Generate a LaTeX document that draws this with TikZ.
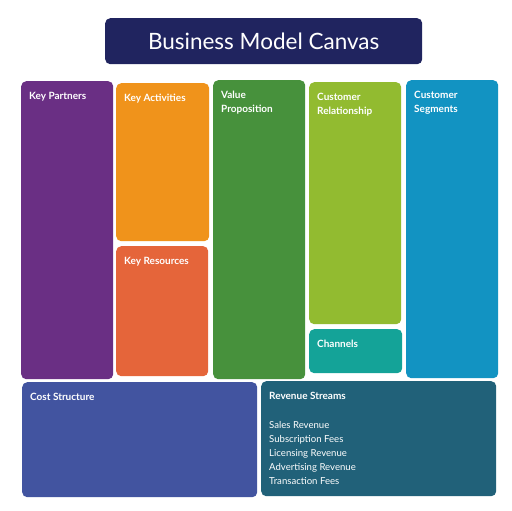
\documentclass[tikz,border=0pt]{standalone}
\usepackage{fontspec}
\setmainfont{Lato}
\usepackage{xcolor}
\usetikzlibrary{positioning}

\definecolor{titleblue}{HTML}{20245F}
\definecolor{kpcol}{HTML}{6A2F84}
\definecolor{kacol}{HTML}{F0931B}
\definecolor{krcol}{HTML}{E5653A}
\definecolor{vpcol}{HTML}{47913C}
\definecolor{crcol}{HTML}{92BB30}
\definecolor{chcol}{HTML}{14A398}
\definecolor{cscol}{HTML}{1293C2}
\definecolor{costcol}{HTML}{4254A0}
\definecolor{rscol}{HTML}{216179}

\begin{document}
\begin{tikzpicture}[x=1pt,y=-1pt]
	%\draw[help lines] (0,0) grid (512,511);
	\useasboundingbox (0,0) rectangle (512,511);
	
	\tikzstyle{cell} = [rectangle,rounded corners=5pt,inner sep=0pt,anchor=north west]
	\tikzstyle{ctitle} = [anchor=north west,inner sep=0pt,text=white,align=left,font=\fontsize{10}{14}\selectfont\bfseries]
	\tikzstyle{citem} = [anchor=north west,inner sep=0pt,text=white,align=left,font=\fontsize{9.6}{14}\selectfont]
	
	\node[cell,fill=titleblue,minimum width=317pt,minimum height=46pt] (head) at (105,18) {};
	\node[text=white,font=\fontsize{22.5}{26}\selectfont] (headtxt) at (head.center) {Business Model Canvas};
	
	\node[cell,fill=kpcol,minimum width=92pt,minimum height=298pt] (kp) at (21,81) {};
	\node[cell,fill=kacol,minimum width=93pt,minimum height=158pt] (ka) at (116,83) {};
	\node[cell,fill=krcol,minimum width=92pt,minimum height=130pt] (kr) at (116,246) {};
	\node[cell,fill=vpcol,minimum width=92pt,minimum height=299pt] (vp) at (213,80) {};
	\node[cell,fill=crcol,minimum width=92pt,minimum height=242pt] (cr) at (309,82) {};
	\node[cell,fill=chcol,minimum width=93pt,minimum height=44pt] (ch) at (309,329) {};
	\node[cell,fill=cscol,minimum width=92pt,minimum height=298pt] (cs) at (406,80) {};
	\node[cell,fill=costcol,minimum width=235pt,minimum height=115pt] (cost) at (22,382) {};
	\node[cell,fill=rscol,minimum width=235pt,minimum height=115pt] (rs) at (261,381) {};
	
	\node[ctitle] (kptxt) at ([shift={(8,11)}]kp.north west) {Key Partners};
	\node[ctitle] (katxt) at ([shift={(8,11)}]ka.north west) {Key Activities};
	\node[ctitle] (krtxt) at ([shift={(8,11)}]kr.north west) {Key Resources};
	\node[ctitle] (vptxt) at ([shift={(8,11)}]vp.north west) {Value\\Proposition};
	\node[ctitle] (crtxt) at ([shift={(8,11)}]cr.north west) {Customer\\Relationship};
	\node[ctitle] (chtxt) at ([shift={(8,11)}]ch.north west) {Channels};
	\node[ctitle] (cstxt) at ([shift={(8,11)}]cs.north west) {Customer\\Segments};
	\node[ctitle] (costtxt) at ([shift={(8,11)}]cost.north west) {Cost Structure};
	\node[ctitle] (rstxt) at ([shift={(8,11)}]rs.north west) {Revenue Streams};
	\node[citem] (rsitems) at ([shift={(8,40)}]rs.north west) {Sales Revenue\\Subscription Fees\\Licensing Revenue\\Advertising Revenue\\Transaction Fees};

\end{tikzpicture}
\end{document}
